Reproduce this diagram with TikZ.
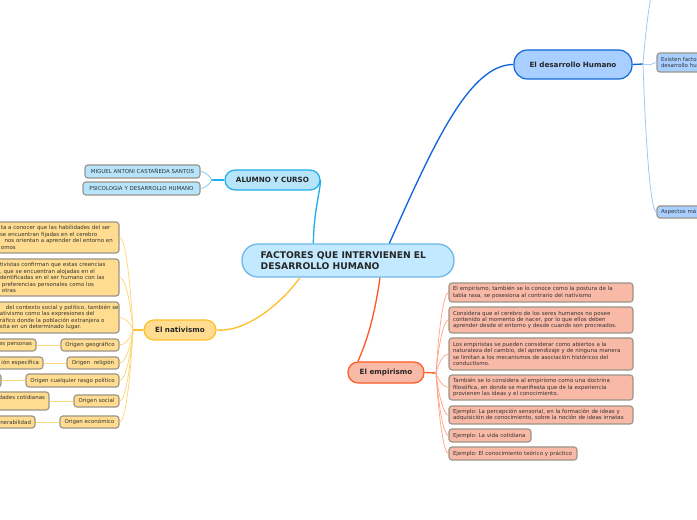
\documentclass[tikz,border=0pt]{standalone}
\usepackage{fontspec}
\setmainfont{DejaVu Sans}
\usetikzlibrary{calc}
\definecolor{ink}{HTML}{333333}
\definecolor{rootfill}{HTML}{C2E9FF}\definecolor{rootline}{HTML}{6FB7E6}
\definecolor{cyanline}{HTML}{22AEEE}\definecolor{cyanfill}{HTML}{B5E4FB}
\definecolor{bluefill}{HTML}{A8CFFF}\definecolor{blueline}{HTML}{0F66DC}
\definecolor{yelfill}{HTML}{FFDC8F}\definecolor{yelline}{HTML}{FFC02B}
\definecolor{redfill}{HTML}{F9B9A7}\definecolor{redline}{HTML}{FF5A26}
\definecolor{edgegray}{HTML}{9A9488}
\tikzset{
  px/.style={x=0.75pt,y=-0.75pt},
  boxbase/.style={rectangle,align=left,inner ysep=0pt,inner xsep=3pt,text=ink,anchor=center},
  rootbox/.style={boxbase,rounded corners=12pt,fill=rootfill,draw=rootline,line width=1pt,font=\bfseries\fontsize{6.9}{8.4}\selectfont,text=black!85,inner xsep=14pt},
  mainbox/.style={boxbase,rounded corners=7.5pt,line width=0.9pt,font=\bfseries\fontsize{5.4}{7}\selectfont,text=black!85,align=center},
  kidbox/.style={boxbase,rounded corners=2.2pt,draw=edgegray,line width=0.85pt,font=\fontsize{4.1}{4.85}\selectfont},
  kidcenter/.style={kidbox,align=center},
  thick line/.style={line width=1pt},
  thin line/.style={line width=0.55pt},
}
\newcommand\bx[7]{%
  \pgfmathsetmacro\cxv{(#3+#5)/2}%
  \pgfmathsetmacro\cyv{(#4+#6)/2}%
  \pgfmathsetmacro\wv{(#5-#3)*0.75}%
  \pgfmathsetmacro\hv{(#6-#4)*0.75}%
  \pgfmathsetmacro\twv{\wv-6}%
  \node[#2,minimum width=\wv pt,minimum height=\hv pt,text width=\twv pt] (#1) at (\cxv,\cyv) {#7};}
\newcommand\bxroot[7]{%
  \pgfmathsetmacro\cxv{(#3+#5)/2}%
  \pgfmathsetmacro\cyv{(#4+#6)/2}%
  \pgfmathsetmacro\wv{(#5-#3)*0.75}%
  \pgfmathsetmacro\hv{(#6-#4)*0.75}%
  \pgfmathsetmacro\twv{\wv-28}%
  \node[#2,minimum width=\wv pt,minimum height=\hv pt,text width=\twv pt] (#1) at (\cxv,\cyv) {#7};}
\newcommand\cn[4]{\draw[#1] let \p1=(#2),\p2=(#3) in (\p1) .. controls (\x1+#4*2.25pt,\y1*0.4+\y2*0.6) and (\x1+#4*6pt,\y2) .. (\p2);}
\newcommand\off[1]{\hspace*{#1pt}}
\newcommand\nwl[2]{\leavevmode\rlap{\hspace*{#1pt}#2}}
\begin{document}
\frenchspacing
\begin{tikzpicture}[px]
\clip (0,0) rectangle (697,520);
\fill[white] (0,0) rectangle (697,520);
% central and main topics
\bxroot{root}{rootbox}{242}{244}{454}{277}{FACTORES QUE INTERVIENEN EL\\DESARROLLO HUMANO}
\bx{alumno}{mainbox,fill=cyanfill,draw=cyanline}{225}{170}{320}{190}{ALUMNO Y CURSO}
\bx{desa}{mainbox,fill=bluefill,draw=blueline,rounded corners=10pt}{514}{50}{632}{79}{El desarrollo Humano}
\bx{nat}{mainbox,fill=yelfill,draw=yelline}{144}{320}{216}{340}{El nativismo}
\bx{emp}{mainbox,fill=redfill,draw=redline}{348}{362}{424}{383}{El empirismo}
% alumno
\bx{a1}{kidcenter,fill=cyanfill}{85}{165}{200}{178}{MIGUEL ANTONI CASTAÑEDA SANTOS}
\bx{a2}{kidcenter,fill=cyanfill}{83}{182}{200}{195}{PSICOLOGIA Y DESARROLLO HUMANO}
% desarrollo
\bx{d1}{kidbox,fill=bluefill}{657}{53}{740}{72}{Existen facto\\desarrollo hu}
\bx{d2}{kidbox,fill=bluefill}{657}{206}{740}{218}{Aspectos má}
\coordinate (dtop) at (651,-4);
% nativismo
\bx{n1}{kidbox,fill=yelfill}{-4}{222}{119}{253}{\nwl{0.7}{ta a conocer que las habilidades del ser}\\se encuentran fijadas en el cerebro\\\nwl{3.5}{nos orientan a aprender del entorno en}\\\off{0.7}omos}
\bx{n2}{kidbox,fill=yelfill}{-4}{259}{119}{296}{tivistas confirman que estas creencias\\, que se encuentran alojadas en el\\dentificadas en el ser humano con las\\\off{1.5}preferencias personales como los\\\off{1.5}otras}
\bx{n3}{kidbox,fill=yelfill}{-4}{302}{119}{333}{\nwl{4.5}{del contexto social y político, también se}\\ativismo como las expresiones del\\ráfico donde la población extranjera o\\sita en un determinado lugar.}
\bx{o1}{kidcenter,fill=yelfill}{61}{339}{119}{351}{Origen geográfico}
\bx{s1}{kidbox,fill=yelfill,align=right}{-40}{339}{36}{351}{es personas}
\bx{o2}{kidcenter,fill=yelfill}{67}{357}{119}{369}{Origen\ \ religión}
\bx{s2}{kidbox,fill=yelfill,align=right}{-40}{357}{43}{369}{ión específica}
\bx{o3}{kidcenter,fill=yelfill}{26}{374}{119}{387}{Origen cualquier rasgo político}
\bx{s3}{kidbox,fill=yelfill}{-12}{374}{1}{387}{}
\bx{o4}{kidcenter,fill=yelfill}{74}{395}{119}{407}{Origen social}
\bx{s4}{kidbox,fill=yelfill,align=right}{-40}{392}{49}{410}{dades cotidianas\\\mbox{}}
\bx{o5}{kidcenter,fill=yelfill}{60}{416}{119}{428}{Origen económico}
\bx{s5}{kidbox,fill=yelfill,align=right}{-40}{416}{35}{428}{nerabilidad}
% empirismo
\bx{e1}{kidbox,fill=redfill}{449}{283}{633}{302}{El empirismo, también se lo conoce como la postura de la\\tabla rasa, se posesiona al contrario del nativismo}
\bx{e2}{kidbox,fill=redfill}{449}{307}{633}{333}{Considera que el cerebro de los seres humanos no posee\\contenido al momento de nacer, por lo que ellos deben\\aprender desde el entorno y desde cuando son procreados.}
\bx{e3}{kidbox,fill=redfill}{449}{338}{633}{370}{Los empiristas se pueden considerar como abiertos a la\\naturaleza del cambio, del aprendizaje y de ninguna manera\\se limitan a los mecanismos de asociación históricos del\\conductismo.}
\bx{e4}{kidbox,fill=redfill}{449}{375}{633}{400}{También se lo considera al empirismo como una doctrina\\filosófica, en donde se manifiesta que de la experiencia\\provienen las ideas y el conocimiento.}
\bx{e5}{kidbox,fill=redfill}{449}{406}{633}{424}{Ejemplo: La percepción sensorial, en la formación de ideas y\\adquisición de conocimiento, sobre la noción de ideas innatas}
\bx{e6}{kidbox,fill=redfill}{449}{429}{531}{442}{Ejemplo: La vida cotidiana}
\bx{e7}{kidbox,fill=redfill}{449}{447}{577}{460}{Ejemplo: El conocimiento teórico y práctico}
% hubs
\coordinate (ha) at (212,180);
\coordinate (hd) at (643,64);
\coordinate (hn) at (133,330);
\coordinate (he) at (436,373);
% main connectors
\draw[cyanline,thick line] ([xshift=-26pt]root.north) .. controls ([xshift=-25.5pt,yshift=25pt]root.north) and ([xshift=-0.75pt,yshift=-11pt]alumno.east) .. (alumno.east);
\draw[blueline,thick line] ([xshift=31pt]root.north) .. controls ([xshift=64.5pt,yshift=75pt]root.north) and ([xshift=-33pt]desa.west) .. (desa.west);
\draw[redline,thick line] ([xshift=24pt]root.south) .. controls ([xshift=19pt,yshift=-35pt]root.south) and ([xshift=-16pt,yshift=12pt]emp.north) .. ([xshift=-21pt]emp.north);
\draw[yelline,thick line] ([xshift=-36pt]root.south) .. controls ([xshift=-52pt,yshift=-22pt]root.south) and ([xshift=20pt,yshift=-2pt]nat.east) .. (nat.east);
% hub stems
\draw[cyanline,thick line] (alumno.west) -- (ha);
\draw[blueline,thick line] (desa.east) -- (hd);
\draw[yelline,thick line] (nat.west) -- (hn);
\draw[redline,thick line] (emp.east) -- (he);
% alumno kids
\cn{cyanline!65,thin line}{ha}{a1.east}{-1}
\cn{cyanline!65,thin line}{ha}{a2.east}{-1}
% desarrollo kids
\cn{blueline!40,thin line}{hd}{dtop}{1}
\draw[blueline!40,thin line] (hd) .. controls ([xshift=4pt,yshift=-1pt]hd) .. (d1.west);
\cn{blueline!40,thin line}{hd}{d2.west}{1}
% nativismo kids
\foreach \k in {n1,n2,n3,o1,o2,o3,o4,o5}{\cn{yelline!65,thin line}{hn}{\k.east}{-1}}
\draw[yelline!65,thin line] (o1) -- (s1);
\draw[yelline!65,thin line] (o2) -- (s2);
\draw[yelline!65,thin line] (o3) -- (s3);
\draw[yelline!65,thin line] (o4) -- (s4);
\draw[yelline!65,thin line] (o5) -- (s5);
% empirismo kids
\foreach \k in {e1,e2,e3,e4,e5,e6,e7}{\cn{redline!55,thin line}{he}{\k.west}{1}}
\end{tikzpicture}
\end{document}
